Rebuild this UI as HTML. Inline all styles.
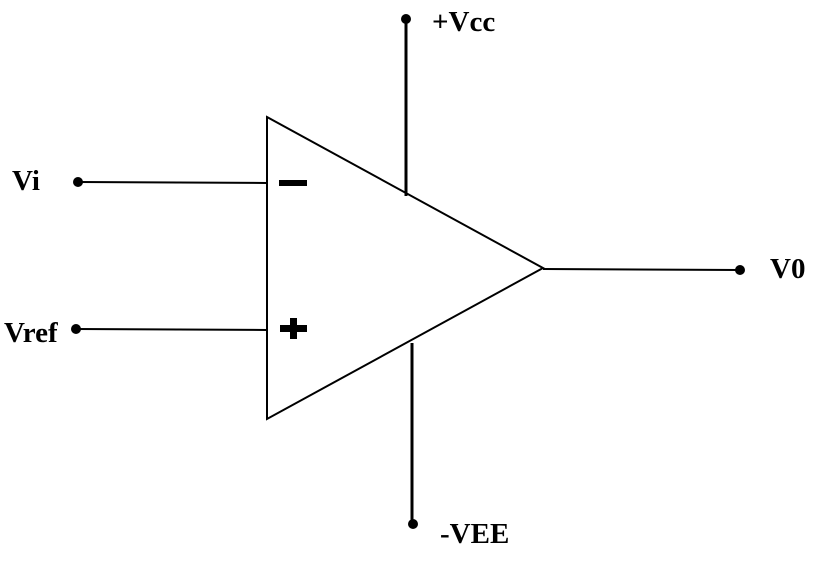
<!DOCTYPE html>
<html><head><style>body{margin:0;background:#fff}</style></head><body>
<svg width="817" height="561" xmlns="http://www.w3.org/2000/svg" style="display:block">
<rect width="817" height="561" fill="#fff"/>
<polygon points="267,117 543,268 267,419" fill="none" stroke="#000" stroke-width="2"/>
<line x1="78" y1="182" x2="267" y2="183" stroke="#000" stroke-width="2"/>
<line x1="76" y1="329" x2="267" y2="330" stroke="#000" stroke-width="2"/>
<line x1="543" y1="269" x2="740" y2="270" stroke="#000" stroke-width="2"/>
<line x1="406" y1="19" x2="406" y2="196" stroke="#000" stroke-width="3"/>
<line x1="412" y1="343" x2="412" y2="524" stroke="#000" stroke-width="3"/>
<circle cx="78" cy="182" r="5"/><circle cx="76" cy="329" r="5"/>
<circle cx="740" cy="270" r="5"/><circle cx="406" cy="19" r="5"/><circle cx="413" cy="524" r="5"/>
<rect x="279" y="180" width="28" height="6"/>
<rect x="280" y="325" width="27" height="7"/><rect x="290" y="318" width="7" height="21"/>
<g font-family="Liberation Serif, serif" font-weight="bold" font-size="29">
<text x="12" y="190">Vi</text>
<text x="4" y="342">Vref</text>
<text x="770" y="278">V0</text>
<text x="432" y="31">+Vcc</text>
<text x="440" y="543">-VEE</text>
</g>
</svg>
</body></html>
